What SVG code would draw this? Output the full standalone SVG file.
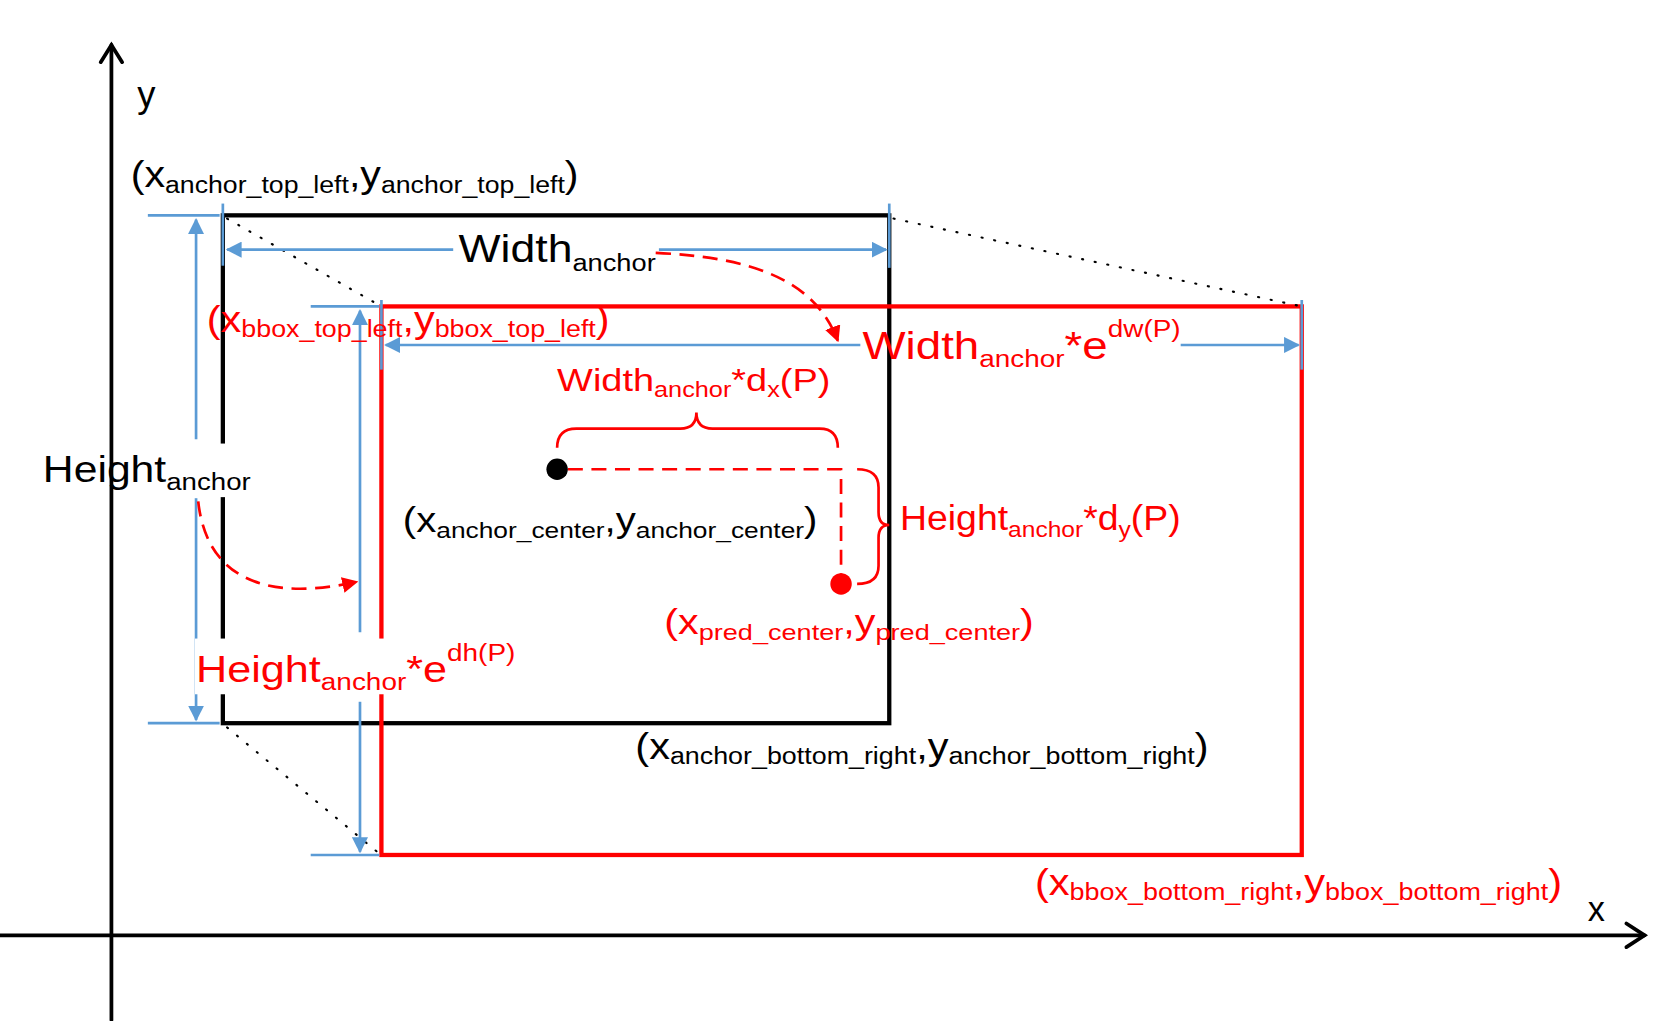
<svg xmlns="http://www.w3.org/2000/svg" width="1680" height="1021" viewBox="0 0 1680 1021">
<style>
.t{font-family:"Liberation Sans",Arial,sans-serif;}
.k{fill:#000}.r{fill:#f00}
.b{stroke:#5b9bd5;stroke-width:2.5;fill:none}
.rd{stroke:#f00;stroke-width:2.5;fill:none;stroke-dasharray:14 8}
.dot{stroke:#000;stroke-width:2;fill:none;stroke-dasharray:1 11;stroke-linecap:round}
</style>
<defs>
<marker id="ba" viewBox="0 0 10 10" refX="9" refY="5" markerWidth="6" markerHeight="6" orient="auto-start-reverse"><path d="M0,0 L10,5 L0,10z" fill="#5b9bd5"/></marker>
<marker id="ra" viewBox="0 0 10 10" refX="9" refY="5" markerWidth="6" markerHeight="6" orient="auto"><path d="M0,0 L10,5 L0,10z" fill="#f00"/></marker>
</defs>
<rect width="1680" height="1021" fill="#fff"/>
<g transform="scale(1.0714)">
<g id="axes" stroke="#000" stroke-width="3.5" fill="none" stroke-linecap="round">
<line x1="104" y1="42" x2="104" y2="952"/>
<path d="M94,58 L104,42 L114,58"/>
<line x1="0" y1="873" x2="1535" y2="873"/>
<path d="M1518,862 L1535,873 L1518,884"/>
</g>
<g id="anchor-box"><rect x="208" y="201" width="622" height="474" fill="none" stroke="#000" stroke-width="4"/></g>
<g id="bbox"><rect x="356" y="286" width="859" height="512" fill="none" stroke="#f00" stroke-width="4"/></g>
<g id="connectors">
<line class="dot" x1="212" y1="204" x2="356" y2="286"/>
<line class="dot" x1="834" y1="204" x2="1215" y2="286"/>
<line class="dot" x1="212" y1="679" x2="352" y2="795"/>
<g class="b">
<line x1="208" y1="190" x2="208" y2="248"/><line x1="830" y1="190" x2="830" y2="250"/>
<line x1="356" y1="280" x2="356" y2="345"/><line x1="1215" y1="280" x2="1215" y2="345"/>
<line x1="138" y1="201" x2="205" y2="201"/><line x1="138" y1="675" x2="205" y2="675"/>
<line x1="290" y1="286" x2="354" y2="286"/><line x1="290" y1="798" x2="354" y2="798"/>
<line x1="423" y1="233" x2="212" y2="233" marker-end="url(#ba)"/>
<line x1="615" y1="233" x2="827" y2="233" marker-end="url(#ba)"/>
<line x1="803" y1="322" x2="360" y2="322" marker-end="url(#ba)"/>
<line x1="1102" y1="322" x2="1212" y2="322" marker-end="url(#ba)"/>
<line x1="183" y1="410" x2="183" y2="205" marker-end="url(#ba)"/>
<line x1="183" y1="465" x2="183" y2="672" marker-end="url(#ba)"/>
<line x1="336" y1="590" x2="336" y2="290" marker-end="url(#ba)"/>
<line x1="336" y1="655" x2="336" y2="795" marker-end="url(#ba)"/>
</g>
<path class="rd" d="M612,236 C700,240 760,260 782,318" marker-end="url(#ra)"/>
<path class="rd" d="M185,468 C195,560 280,555 333,543" marker-end="url(#ra)"/>
<path class="rd" d="M530,438 L785,438 L785,540"/>
<path d="M520,418 Q520,400 538,400 L635,400 Q650,400 650,385 Q650,400 665,400 L765,400 Q782,400 782,418" fill="none" stroke="#f00" stroke-width="2.5"/>
<path d="M800,438 Q820,438 820,455 L820,478 Q820,490 830,490 Q820,490 820,502 L820,528 Q820,545 800,545" fill="none" stroke="#f00" stroke-width="2.5"/>
</g>
<g id="points"><circle cx="520" cy="438" r="10" fill="#000"/><circle cx="785" cy="545" r="10" fill="#f00"/></g>
<g id="labels" class="t">
<rect x="150" y="414" width="70" height="50" fill="#fff"/>
<rect x="182" y="596" width="196" height="52" fill="#fff"/>
<text class="k" x="128" y="100" font-size="34">y</text>
<text class="k" x="1482" y="860" font-size="32">x</text>
<text class="k" x="122" y="175" font-size="34" textLength="418" lengthAdjust="spacingAndGlyphs">(x<tspan font-size="22" dy="5">anchor_top_left</tspan><tspan dy="-5">,y</tspan><tspan font-size="22" dy="5">anchor_top_left</tspan><tspan dy="-5">)</tspan></text>
<text class="k" x="428" y="245" font-size="36" textLength="184" lengthAdjust="spacingAndGlyphs">Width<tspan font-size="22" dy="8">anchor</tspan></text>
<text class="r" x="193" y="310" font-size="34" textLength="376" lengthAdjust="spacingAndGlyphs">(x<tspan font-size="22" dy="5">bbox_top_left</tspan><tspan dy="-5">,y</tspan><tspan font-size="22" dy="5">bbox_top_left</tspan><tspan dy="-5">)</tspan></text>
<text class="r" x="805" y="335" font-size="36" textLength="297" lengthAdjust="spacingAndGlyphs">Width<tspan font-size="22" dy="8">anchor</tspan><tspan dy="-8">*e</tspan><tspan font-size="22" dy="-20">dw(P)</tspan></text>
<text class="r" x="520" y="365" font-size="30" textLength="255" lengthAdjust="spacingAndGlyphs">Width<tspan font-size="20" dy="6">anchor</tspan><tspan dy="-6">*d</tspan><tspan font-size="20" dy="6">x</tspan><tspan dy="-6">(P)</tspan></text>
<text class="k" x="40" y="450" font-size="34" textLength="194" lengthAdjust="spacingAndGlyphs">Height<tspan font-size="22" dy="7">anchor</tspan></text>
<text class="k" x="376" y="497" font-size="32" textLength="387" lengthAdjust="spacingAndGlyphs">(x<tspan font-size="21" dy="5">anchor_center</tspan><tspan dy="-5">,y</tspan><tspan font-size="21" dy="5">anchor_center</tspan><tspan dy="-5">)</tspan></text>
<text class="r" x="840" y="495" font-size="32" textLength="262" lengthAdjust="spacingAndGlyphs">Height<tspan font-size="21" dy="6">anchor</tspan><tspan dy="-6">*d</tspan><tspan font-size="21" dy="6">y</tspan><tspan dy="-6">(P)</tspan></text>
<text class="r" x="620" y="592" font-size="32" textLength="345" lengthAdjust="spacingAndGlyphs">(x<tspan font-size="21" dy="5">pred_center</tspan><tspan dy="-5">,y</tspan><tspan font-size="21" dy="5">pred_center</tspan><tspan dy="-5">)</tspan></text>
<text class="r" x="183" y="637" font-size="34" textLength="298" lengthAdjust="spacingAndGlyphs">Height<tspan font-size="22" dy="7">anchor</tspan><tspan dy="-7">*e</tspan><tspan font-size="22" dy="-20">dh(P)</tspan></text>
<text class="k" x="593" y="708" font-size="34" textLength="535" lengthAdjust="spacingAndGlyphs">(x<tspan font-size="22" dy="5">anchor_bottom_right</tspan><tspan dy="-5">,y</tspan><tspan font-size="22" dy="5">anchor_bottom_right</tspan><tspan dy="-5">)</tspan></text>
<text class="r" x="966" y="835" font-size="34" textLength="492" lengthAdjust="spacingAndGlyphs">(x<tspan font-size="22" dy="5">bbox_bottom_right</tspan><tspan dy="-5">,y</tspan><tspan font-size="22" dy="5">bbox_bottom_right</tspan><tspan dy="-5">)</tspan></text>
</g>
</g>
</svg>
